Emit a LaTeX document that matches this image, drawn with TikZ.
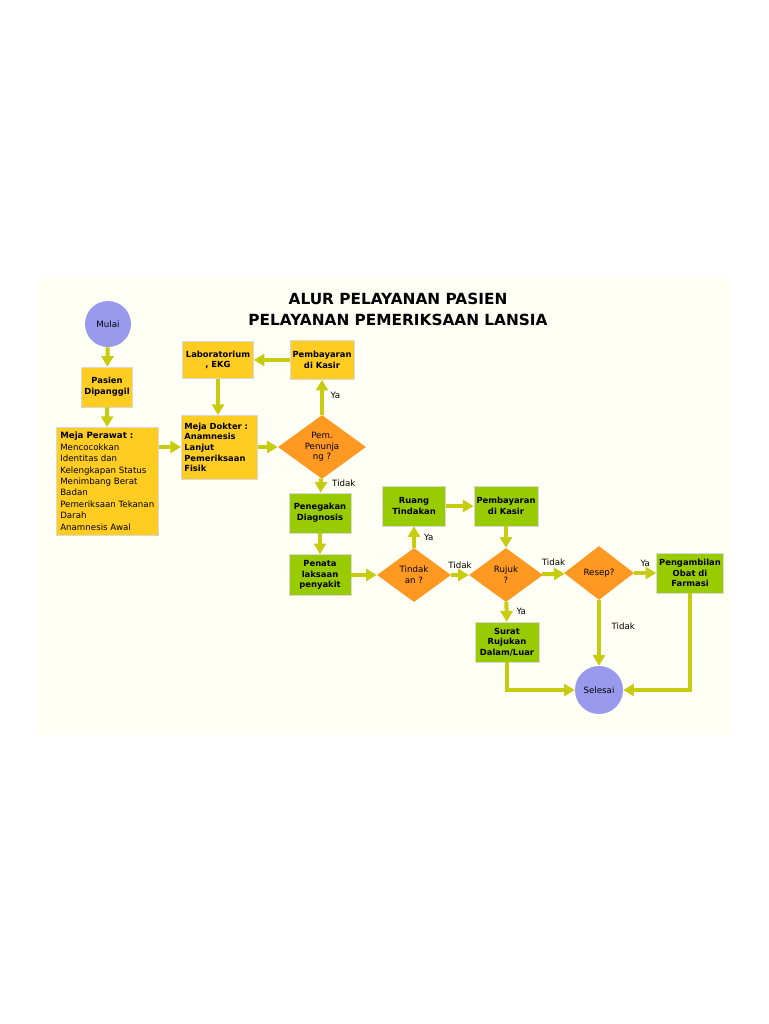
\documentclass[tikz,border=0pt]{standalone}
\usepackage{fontspec}
\setmainfont{DejaVu Sans}
\usetikzlibrary{shapes.geometric,arrows.meta}
\definecolor{yel}{HTML}{FFCC22}
\definecolor{grn}{HTML}{99CC00}
\definecolor{org}{HTML}{FF9922}
\definecolor{pur}{HTML}{9999EE}
\definecolor{arr}{HTML}{C8CC10}
\definecolor{bg}{HTML}{FFFFF6}
\begin{document}
\begin{tikzpicture}[x=0.75pt,y=-0.75pt,
  box/.style={draw=white!85!black,line width=0.4pt,inner sep=2pt,font=\fontsize{6.3}{8}\selectfont\bfseries,align=center},
  ybox/.style={box,fill=yel},
  gbox/.style={box,fill=grn},
  dia/.style={diamond,fill=org,inner sep=0pt,font=\fontsize{6.5}{8}\selectfont,align=center},
  circ/.style={circle,fill=pur,inner sep=0pt,minimum size=46*0.75pt,font=\fontsize{6.5}{8}\selectfont},
  lab/.style={font=\fontsize{6.5}{8}\selectfont,inner sep=0pt},
  con/.style={draw=arr,line width=3pt,-{Triangle[length=8pt,width=9pt]}}]
\useasboundingbox (0,0) rectangle (768,1024);
\fill[bg] (38,278) rectangle (730,735);
\node[font=\fontsize{11.5}{14}\selectfont\bfseries] (t1) at (398,299) {ALUR PELAYANAN PASIEN};
\node[font=\fontsize{11.5}{14}\selectfont\bfseries] (t2) at (398,320) {PELAYANAN PEMERIKSAAN LANSIA};

\node[circ] (mulai) at (108,324) {Mulai};
\node[ybox,minimum width=50*0.75pt,minimum height=40*0.75pt] (pasien) at (107,387) {Pasien\\Dipanggil};
\node[ybox,minimum width=102*0.75pt,minimum height=108*0.75pt,align=left,anchor=north west,font=\fontsize{6.5}{8.6}\selectfont] (perawat) at (56,427) {\textbf{Meja Perawat :}\\Mencocokkan\\Identitas dan\\Kelengkapan Status\\Menimbang Berat\\Badan\\Pemeriksaan Tekanan\\Darah\\Anamnesis Awal};
\node[ybox,minimum width=76*0.75pt,minimum height=64*0.75pt,align=left,anchor=north west,text width=70*0.75pt] (dokter) at (181,415) {Meja Dokter :\\Anamnesis\\Lanjut\\Pemeriksaan\\Fisik};
\node[ybox,minimum width=71*0.75pt,minimum height=37*0.75pt] (lab) at (218,360) {Laboratorium\\, EKG};
\node[ybox,minimum width=63*0.75pt,minimum height=39*0.75pt] (bayar1) at (322,360) {Pembayaran\\di Kasir};
\node[dia,minimum width=88*0.75pt,minimum height=56*0.75pt] (penunjang) at (322,447) {Pem.\\Penunja\\ng ?};
\node[gbox,minimum width=62*0.75pt,minimum height=40*0.75pt] (diag) at (320,513) {Penegakan\\Diagnosis};
\node[gbox,minimum width=62*0.75pt,minimum height=41*0.75pt] (penata) at (320,575) {Penata\\laksaan\\penyakit};
\node[dia,minimum width=74*0.75pt,minimum height=54*0.75pt] (tindak) at (414,575) {Tindak\\an ?};
\node[gbox,minimum width=63*0.75pt,minimum height=40*0.75pt] (ruang) at (414,506) {Ruang\\Tindakan};
\node[gbox,minimum width=64*0.75pt,minimum height=40*0.75pt] (bayar2) at (506,506) {Pembayaran\\di Kasir};
\node[dia,minimum width=74*0.75pt,minimum height=54*0.75pt] (rujuk) at (506,575) {Rujuk\\?};
\node[gbox,minimum width=64*0.75pt,minimum height=40*0.75pt] (surat) at (507,642) {Surat\\Rujukan\\Dalam/Luar};
\node[dia,minimum width=70*0.75pt,minimum height=54*0.75pt] (resep) at (599,573) {Resep?};
\node[gbox,minimum width=65*0.75pt,minimum height=40*0.75pt] (obat) at (690,573) {Pengambilan\\Obat di\\Farmasi};
\node[circ,minimum size=48*0.75pt] (selesai) at (599,690) {Selesai};

\draw[con] (mulai) -- (pasien);
\draw[con] (pasien) -- (perawat);
\draw[con] (perawat.east |- 0,447) -- (dokter.west |- 0,447);
\draw[con] (lab) -- (dokter.north -| lab);
\draw[con] (dokter.east |- penunjang) -- (penunjang);
\draw[con] (penunjang) -- node[lab,right=5pt,pos=0.55]{Ya} (bayar1);
\draw[con] (bayar1) -- (lab);
\draw[con] (penunjang) -- node[lab,right=7pt,pos=0.35]{Tidak} (diag);
\draw[con] (diag) -- (penata);
\draw[con] (penata) -- (tindak);
\draw[con] (tindak) -- node[lab,right=6pt]{Ya} (ruang);
\draw[con] (ruang) -- (bayar2);
\draw[con] (bayar2) -- (rujuk);
\draw[con] (tindak) -- node[lab,above=3pt]{Tidak} (rujuk);
\draw[con] (rujuk) -- node[lab,above=5pt]{Tidak} (resep);
\draw[con] (resep) -- node[lab,above=3pt]{Ya} (obat);
\draw[con] (rujuk) -- node[lab,right=6pt]{Ya} (surat);
\draw[con] (resep) -- node[lab,right=8pt,pos=0.4]{Tidak} (selesai);
\coordinate (c1) at (507,690);
\coordinate (c2) at (690,690);
\draw[con] (surat.south) -- (c1) -- (selesai);
\draw[con] (obat.south) -- (c2) -- (selesai);
\end{tikzpicture}
\end{document}
